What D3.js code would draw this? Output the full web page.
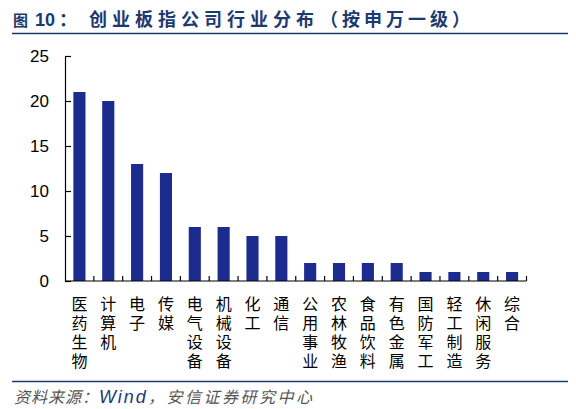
<!DOCTYPE html>
<html><head><meta charset="utf-8">
<script src="https://cdn.jsdelivr.net/npm/d3@7"></script>
<style>
html,body{margin:0;padding:0;background:#fff;}
svg{display:block;}
</style></head>
<body>
<svg id="c" width="576" height="409"></svg>
<script>
const categories = ["医药生物","计算机","电子","传媒","电气设备","机械设备","化工","通信","公用事业","农林牧渔","食品饮料","有色金属","国防军工","轻工制造","休闲服务","综合"];
const values = [21,20,13,12,6,6,5,5,2,2,2,2,1,1,1,1];
const yTicks = [0,5,10,15,20,25];
const titleParts = ["图","10","：","创业板指公司行业分布","（按申万一级）"];
const sourceCn1 = "资料来源：";
const sourceWind = "Wind";
const sourceCn2 = "，安信证券研究中心";

const svg = d3.select("#c");
const cjk = "'Noto Sans CJK SC', 'Noto Sans', sans-serif";
const arial = "Arial, 'Liberation Sans', sans-serif";
const navy = "#1C3A72";
const barColor = "#1B2C8E";

// title
const tt = svg.append("text").attr("y",26).attr("font-weight","bold").attr("fill",navy);
tt.append("tspan").attr("x",13).attr("font-family",cjk).attr("font-size",15).text(titleParts[0]);
tt.append("tspan").attr("x",35).attr("font-family",arial).attr("font-size",18).text(titleParts[1]);
tt.append("tspan").attr("x",59).attr("font-family",cjk).attr("font-size",18).text(titleParts[2]);
tt.append("tspan").attr("x",89).attr("font-family",cjk).attr("font-size",18).attr("letter-spacing",5).text(titleParts[3]);
tt.append("tspan").attr("x",320).attr("font-family",cjk).attr("font-size",18).attr("letter-spacing",4).text(titleParts[4]);
svg.append("line").attr("x1",12).attr("x2",568).attr("y1",33.5).attr("y2",33.5)
  .attr("stroke",navy).attr("stroke-width",1.5);

const x = d3.scaleBand().domain(categories).range([65,526.5]).paddingInner(0.58).paddingOuter(0.29);
const y = d3.scaleLinear().domain([0,25]).range([281,56]);

// bars
svg.append("g").selectAll("rect").data(values).join("rect")
  .attr("x",(d,i)=>x(categories[i])).attr("width",x.bandwidth())
  .attr("y",d=>y(d)).attr("height",d=>y(0)-y(d)).attr("fill",barColor);

// y axis
const yAxis = d3.axisLeft(y).tickValues(yTicks).tickSizeInner(-6).tickSizeOuter(0).tickPadding(16);
const gy = svg.append("g").attr("transform","translate(65,0)").call(yAxis);
gy.select(".domain").attr("stroke","#000").attr("stroke-width",1.2);
gy.selectAll(".tick line").attr("stroke","#000").attr("stroke-width",1.2);
gy.selectAll(".tick text").attr("font-family",arial).attr("font-size",17).attr("fill","#000");

// x axis
const xb = d3.scaleLinear().domain([0,categories.length]).range([65,526.5]);
const gx = svg.append("g").attr("transform","translate(0,281)");
gx.append("line").attr("x1",65).attr("x2",526.5).attr("y1",0).attr("y2",0).attr("stroke","#000").attr("stroke-width",1.2);
gx.selectAll("line.t").data(d3.range(1,categories.length+1)).join("line").attr("class","t")
  .attr("x1",d=>xb(d)).attr("x2",d=>xb(d)).attr("y1",0).attr("y2",-5).attr("stroke","#000").attr("stroke-width",1.2);

// x labels (vertical text)
svg.append("g").selectAll("text").data(categories).join("text")
  .attr("x",c=>x(c)+x.bandwidth()/2).attr("y",296)
  .attr("font-family",cjk).attr("font-size",16).attr("fill","#000")
  .style("writing-mode","vertical-rl").style("text-orientation","upright")
  .attr("letter-spacing",3)
  .text(c=>c);

// source
svg.append("line").attr("x1",12).attr("x2",568).attr("y1",381.5).attr("y2",381.5)
  .attr("stroke",navy).attr("stroke-width",1.5);
const st = svg.append("text").attr("x",14).attr("y",403).attr("font-style","italic");
st.append("tspan").attr("font-family",cjk).attr("font-size",16).attr("letter-spacing",1).attr("fill","#555").text(sourceCn1);
st.append("tspan").attr("font-family",arial).attr("font-size",18).attr("letter-spacing",2).attr("fill",navy).text(sourceWind);
st.append("tspan").attr("font-family",cjk).attr("font-size",16).attr("letter-spacing",2.5).attr("fill","#555").text(sourceCn2);
</script>
</body></html>
